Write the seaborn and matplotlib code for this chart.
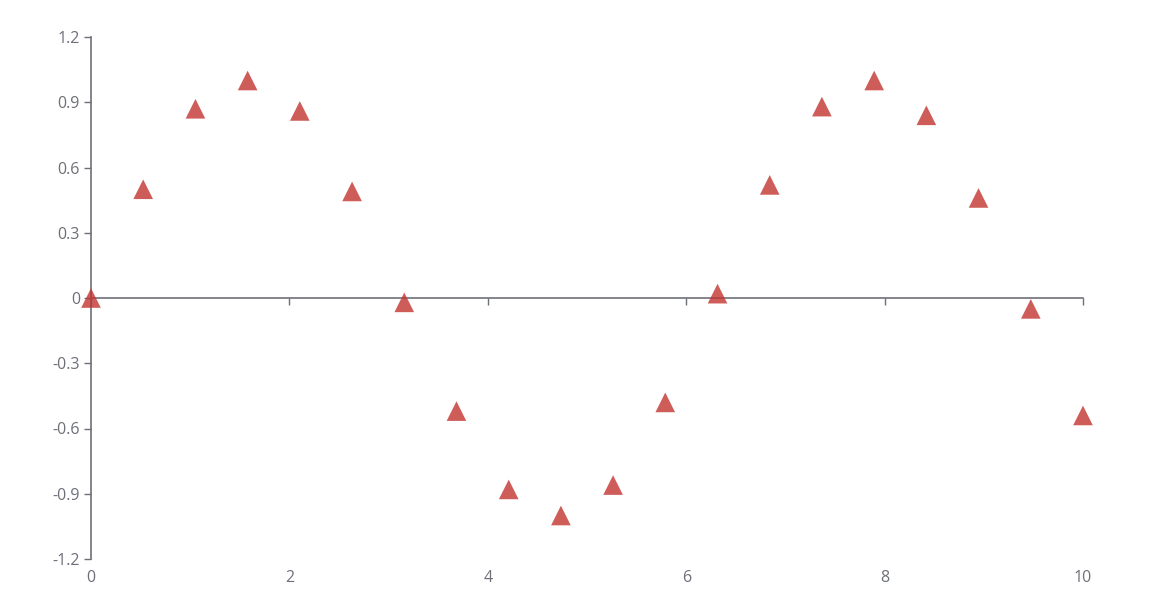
import matplotlib
matplotlib.use("Agg")
import matplotlib.pyplot as plt
import seaborn as sns
import pandas as pd

# values
x_vals = [0, 0.526, 1.053, 1.579, 2.105, 2.632, 3.158, 3.684, 4.211, 4.737,
          5.263, 5.789, 6.316, 6.842, 7.368, 7.895, 8.421, 8.947, 9.474, 10]
y_vals = [0.0, 0.50, 0.87, 1.0, 0.86, 0.49, -0.02, -0.52, -0.88, -1.0,
          -0.86, -0.48, 0.02, 0.52, 0.88, 1.0, 0.84, 0.46, -0.05, -0.54]
x_ticks = [0, 2, 4, 6, 8, 10]
y_ticks = [-1.2, -0.9, -0.6, -0.3, 0, 0.3, 0.6, 0.9, 1.2]
y_labels = ["-1.2", "-0.9", "-0.6", "-0.3", "0", "0.3", "0.6", "0.9", "1.2"]

df = pd.DataFrame({"x": x_vals, "y": y_vals})

sns.set_style("white")
plt.rcParams["font.family"] = ["Open Sans", "DejaVu Sans"]

axis_col = "#6e7079"
label_col = "#6e7079"

fig = plt.figure(figsize=(11.59, 6.07), dpi=100)
ax = fig.add_axes([91 / 1159, 1 - 559 / 607, (1083 - 91) / 1159, (559 - 37) / 607])

sns.scatterplot(data=df, x="x", y="y", marker="^", s=200, color="#c23531",
                alpha=0.8, edgecolor="none", linewidth=0, ax=ax, clip_on=False, zorder=3)

ax.set_xlim(0, 10)
ax.set_ylim(-1.2, 1.2)
ax.set_xlabel("")
ax.set_ylabel("")

# y axis on the left
ax.set_yticks(y_ticks)
ax.set_yticklabels(y_labels)
ax.tick_params(axis="y", length=5, width=1, color=axis_col, labelcolor=label_col,
               labelsize=11.5, pad=3, left=True)

# x axis line sits on zero, labels stay at the bottom
ax.spines["bottom"].set_position(("data", 0))
ax.set_xticks(x_ticks)
ax.tick_params(axis="x", length=5, width=1, color=axis_col, labelbottom=False, bottom=True)

sec = ax.secondary_xaxis("bottom")
sec.set_xticks(x_ticks)
sec.tick_params(axis="x", length=0, labelcolor=label_col, labelsize=11.5, pad=8)
sec.spines["bottom"].set_visible(False)

for side in ["top", "right"]:
    ax.spines[side].set_visible(False)
for side in ["left", "bottom"]:
    ax.spines[side].set_color(axis_col)
    ax.spines[side].set_linewidth(1.2)

ax.grid(False)

fig.savefig("out.png", dpi=100)
